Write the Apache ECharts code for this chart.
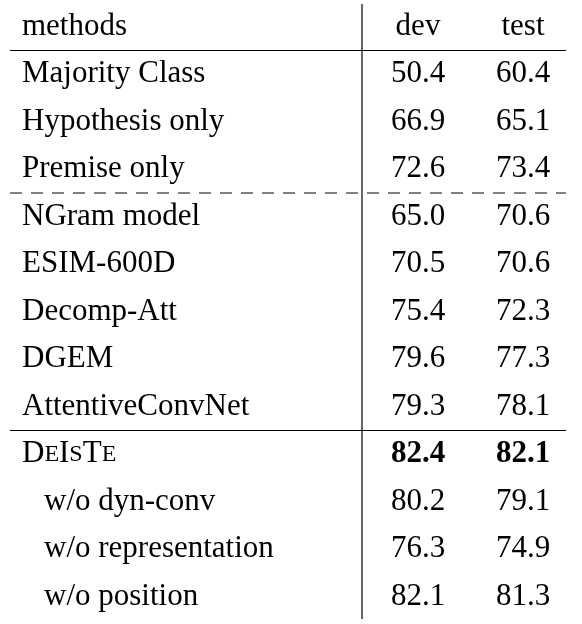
<!DOCTYPE html>
<html><head><meta charset="utf-8">
<script src="https://cdn.jsdelivr.net/npm/echarts@6/dist/echarts.min.js"></script>
<style>html,body{margin:0;padding:0;background:#fff}#c{width:582px;height:624px}</style>
</head><body><div id="c"></div>
<script>
const headers = ['methods', 'dev', 'test'];
const methods = ['Majority Class','Hypothesis only','Premise only','NGram model','ESIM-600D','Decomp-Att','DGEM','AttentiveConvNet','DEISTE','w/o dyn-conv','w/o representation','w/o position'];
const devVals = ['50.4','66.9','72.6','65.0','70.5','75.4','79.6','79.3','82.4','80.2','76.3','82.1'];
const testVals = ['60.4','65.1','73.4','70.6','70.6','72.3','77.3','78.1','82.1','79.1','74.9','81.3'];
const boldRow = 8, indentRows = [9,10,11];
const rules = [{after:0, dash:false},{after:3, dash:true},{after:8, dash:false}];

const rows = [headers].concat(methods.map((m,i)=>[m, devVals[i], testVals[i]]));
const cats = rows.map((r,i)=>String(i));
const FONT = '"Liberation Serif", "DejaVu Serif", serif';
const chart = echarts.init(document.getElementById('c'));
chart.setOption({
  animation:false,
  grid:{left:0,right:0,top:3,height:617.5},
  xAxis:{type:'value',min:0,max:582,show:false},
  yAxis:{type:'category',data:cats,inverse:true,show:false},
  series:[{
    type:'custom',
    data: rows.map((r,i)=>[0,i]),
    renderItem:function(params, api){
      const i = api.value(1);
      const r = rows[i];
      const y = api.coord([0,i])[1];
      const band = api.size([0,1])[1];
      const ch = [];
      const base = {fontFamily:FONT,fontSize:31,fill:'#000',verticalAlign:'middle'};
      const x0 = indentRows.indexOf(i-1)>=0 ? 44 : 22;
      if (i === boldRow+1) {
        ch.push({type:'text',style:Object.assign({},base,{x:x0,y:y,align:'left',
          text:'{b|D}{s|E}{b|I}{s|S}{b|T}{s|E}',
          rich:{b:{fontFamily:FONT,fontSize:31},s:{fontFamily:FONT,fontSize:24}}})});
      } else {
        ch.push({type:'text',style:Object.assign({},base,{x:x0,y:y,align:'left',text:r[0]})});
      }
      const fw = (i===boldRow+1)?'bold':'normal';
      ch.push({type:'text',style:Object.assign({},base,{x:418,y:y,align:'center',text:r[1],fontWeight:fw})});
      ch.push({type:'text',style:Object.assign({},base,{x:523,y:y,align:'center',text:r[2],fontWeight:fw})});
      rules.forEach(ru=>{
        if (ru.after===i) {
          const ly = y + band/2;
          ch.push({type:'line',shape:{x1:10,y1:ly,x2:566,y2:ly},
            style:{stroke:'#000',lineWidth:1.2,lineDash:ru.dash?[12,9]:null}});
        }
      });
      return {type:'group',children:ch};
    }
  }],
  graphic:[{type:'line',shape:{x1:362,y1:4,x2:362,y2:619},style:{stroke:'#000',lineWidth:1.2}}]
});
</script></body></html>
